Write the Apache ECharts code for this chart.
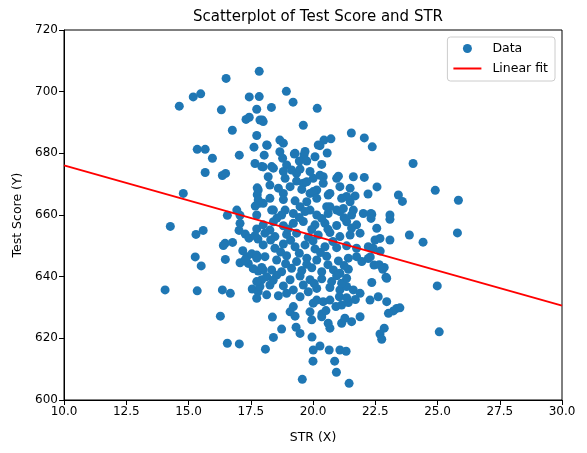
<!DOCTYPE html>
<html>
<head>
<meta charset="utf-8">
<script src="https://cdn.jsdelivr.net/npm/echarts@6/dist/echarts.min.js"></script>
<style>
  html, body { margin: 0; padding: 0; background: #fff; }
  #main { width: 587px; height: 453px; }
</style>
</head>
<body>
<div id="main"></div>
<script>
// 读图得到的散点 [STR, Test Score]
var leftPoints = [
  [16.51,704.3],[14.63,695.3],[15.19,698.3],[15.49,699.3],[16.32,694.1],[17.44,698.3],
  [17.84,706.6],[17.84,698.4],[17.74,694.3],[17.31,691.0],[17.44,691.7],[17.87,690.8],
  [16.76,687.5],[17.74,685.8],[15.35,681.3],[15.67,681.3],[17.63,682.0],[15.96,678.4],
  [17.04,679.4],[17.67,676.7],[15.67,673.8],[16.36,672.8],[16.49,673.5],[17.76,668.8],
  [14.79,667.0],[17.76,666.6],[17.68,662.9],[17.84,663.8],[16.56,659.9],[17.07,659.9],
  [17.74,660.0],[14.27,656.3],[15.30,653.7],[15.59,655.0],[17.03,655.0],[17.28,653.8],
  [17.43,652.5],[17.74,655.5],[16.47,650.8],[16.77,651.1],[16.40,650.1],[17.79,652.2],
  [15.27,646.4],[15.51,643.5],[16.48,645.6],[17.18,648.4],[17.34,646.5],[17.54,647.4],
  [17.74,647.0],[17.07,644.5],[17.40,644.3],[17.80,641.8],[14.06,635.7],[15.35,635.4],
  [16.36,635.7],[16.68,634.6],[17.56,636.0],[17.80,635.1],[17.74,633.0],[16.28,627.2],
  [16.56,618.4],[17.04,618.2],[17.27,645.4],[18.00,642.2],[17.94,639.0],[16.94,661.6],
  [18.41,661.6],[17.07,657.3],[18.27,655.1]
];
var upperPoints = [
  [18.93,700.1],[19.20,696.6],[20.17,694.6],[18.33,694.9],[17.96,690.8],[19.61,689.1],
  [21.54,686.6],[22.06,685.0],[22.38,682.1],[18.67,684.3],[18.81,683.3],[20.44,684.3],
  [20.72,684.7],[20.28,682.5],[18.16,682.6],[18.04,679.4],[18.67,680.5],[18.78,678.4],
  [19.25,679.8],[19.64,679.5],[19.45,677.5],[19.75,677.5],[20.08,678.9],[20.57,680.1],
  [20.35,676.4],[18.00,675.6],[18.34,675.7],[18.94,676.2],[18.81,674.1],[24.02,676.7],
  [18.20,672.4],[19.34,673.5],[20.01,671.9],[20.41,672.4],[20.95,671.9],[21.62,672.4],
  [22.06,672.2],[22.57,669.1],[24.91,668.0],[23.43,666.5],[23.59,664.4],[22.21,666.8],
  [21.69,666.2],[21.49,664.3],[18.27,669.7],[18.81,667.0],[19.08,669.2],[19.61,670.3],
  [19.88,667.0],[20.15,668.1],[20.68,667.0],[21.08,669.2],[21.35,666.0],[18.00,663.8],
  [18.34,661.6],[18.88,661.6],[19.48,662.7],[19.88,661.6],[20.55,662.7],[20.95,661.6],
  [21.62,661.6],[22.33,660.5],[23.09,658.6],[18.00,690.3],[18.14,682.7],[19.28,680.0],
  [19.68,680.6],[17.94,675.7],[18.41,675.2],[19.14,674.6],[19.48,674.9],[19.88,674.1],
  [18.88,671.9],[19.34,671.0],[19.75,670.8],[17.80,668.1],[18.61,668.7],[19.55,668.3],
  [20.01,667.6],[17.80,664.9],[18.27,665.4],[18.81,665.0],[19.28,664.6],[19.75,664.3],
  [20.15,665.4],[20.21,682.7],[20.28,672.9],[21.02,672.6],[20.41,670.3],[21.49,668.7],
  [20.61,666.5],[21.15,665.4],[20.68,662.7],[21.22,662.1],[23.09,660.0],[22.36,660.2]
];
var corePoints = [
  [18.14,634.1],[18.61,633.8],[18.94,634.6],[19.48,633.5],[19.81,635.1],
  [17.87,636.8],[18.27,637.3],[18.81,637.0],[19.21,635.7],[19.61,637.3],[20.15,636.2],
  [20.68,636.5],[21.08,635.7],[21.35,636.8],
  [17.74,638.4],[18.14,640.0],[18.54,640.5],[19.08,639.0],[19.48,640.2],[19.88,639.0],
  [20.35,639.3],[20.75,638.4],[21.15,637.9],[21.35,639.5],
  [17.60,642.6],[17.94,643.0],[18.34,642.2],[18.74,641.6],[19.14,642.7],[19.55,642.0],
  [19.95,642.9],[20.35,641.6],[20.82,642.2],[21.08,641.1],[21.42,642.4],
  [17.74,646.0],[18.07,646.5],[18.54,645.4],[18.94,646.8],[19.34,644.9],[19.75,646.0],
  [20.15,645.4],[20.55,646.6],[21.02,645.1],[21.42,646.0],[21.75,646.5],
  [18.00,650.3],[18.47,649.2],[18.81,650.6],[19.28,649.7],[19.68,650.3],[20.08,649.0],
  [20.48,649.7],[20.95,649.4],[21.35,650.0],[21.75,649.2],
  [17.67,653.3],[18.07,654.1],[18.47,653.0],[18.94,653.7],[19.34,654.1],[19.81,652.8],
  [20.21,653.5],[20.68,654.3],[21.08,653.0],[21.49,653.5],[21.89,654.1],
  [18.00,656.8],[18.41,657.8],[18.81,656.5],[19.21,657.3],[19.61,657.9],[20.08,656.8],
  [20.48,657.3],[20.95,656.6],[21.35,657.8],[21.75,656.8],
  [18.74,660.0],[19.21,660.5],[19.68,661.1],[20.15,660.0],[20.61,660.5],[21.08,661.1],
  [21.55,660.0],[22.02,660.5],
  [18.70,648.0],[19.45,647.6],[20.30,647.8],[19.10,651.8],[20.00,651.6],[20.80,651.4],
  [18.30,651.9],[19.95,655.3],[19.00,655.5],[20.60,655.4],[21.55,655.8],[18.55,659.0],
  [19.45,659.2],[20.35,658.9],[21.25,659.1],[18.90,644.2],[19.75,644.0],[20.60,643.9],
  [21.25,643.6],[18.40,638.8],[20.05,637.8],[20.95,640.3]
];
var lowerPoints = [
  [22.33,658.9],[22.56,655.7],[23.09,651.9],[22.69,652.4],[22.49,651.9],[22.22,649.7],
  [22.42,649.2],[21.96,644.9],[22.22,645.9],[22.45,643.8],[22.86,643.0],[22.93,639.8],
  [22.36,638.1],[21.62,635.7],[21.89,634.6],[22.29,632.4],[22.62,633.5],[22.96,631.9],
  [23.36,629.7],[23.23,628.9],[23.03,628.1],[22.86,623.3],[22.69,621.4],[22.76,619.7],
  [21.89,627.0],[21.55,625.4],[21.15,624.9],[21.28,626.5],[20.68,623.3],[20.61,624.9],
  [20.35,627.0],[21.08,616.2],[21.33,615.8],[20.65,616.2],[20.28,617.5],[20.01,616.2],
  [20.00,612.6],[20.87,612.6],[20.94,609.0],[21.45,605.4],[19.57,606.7],[19.96,620.4],
  [19.48,621.6],[19.32,623.6],[19.95,626.0],[19.88,628.6],[20.36,627.9],[20.52,629.0],
  [18.74,623.0],[18.41,620.3],[18.09,616.5],[18.37,626.9],[19.21,630.3],[19.08,628.6],
  [19.28,627.2],[20.92,630.3],[21.15,630.8],[21.42,631.6],[21.06,633.5],[21.35,633.2],
  [21.70,632.6],[20.15,632.4],[20.41,631.9],[20.68,632.4],[20.01,631.4],[22.70,648.3],
  [22.30,646.4],[22.66,643.9],[22.80,642.4],[22.96,639.5]
];
var rightPoints = [
  [25.84,664.8],[23.87,653.5],[24.42,651.2],[25.80,654.2],[24.99,637.0],[25.07,622.1],
  [23.49,629.9]
];
// 拟合直线两端
var fitX = [10, 30];
var fitY = [676.1, 630.6];

var allPoints = leftPoints.concat(upperPoints, corePoints, lowerPoints, rightPoints);
var fitLine = fitX.map(function (x, i) { return [x, fitY[i]]; });

var myChart = echarts.init(document.getElementById('main'));
var font = 'DejaVu Sans';
var option = {
  backgroundColor: '#fff',
  animation: false,
  title: {
    text: 'Scatterplot of Test Score and STR',
    left: 313,
    textAlign: 'center',
    top: 5,
    textStyle: { fontFamily: font, fontSize: 15, fontWeight: 'normal', color: '#000' }
  },
  legend: {
    orient: 'vertical',
    right: 32,
    top: 37,
    padding: [5, 7, 6, 5],
    itemGap: 7,
    itemWidth: 28,
    itemHeight: 9,
    borderColor: '#ccc',
    borderWidth: 1,
    borderRadius: 3,
    textStyle: { fontFamily: font, fontSize: 12.5, color: '#000', padding: [0, 0, 0, 6] },
    data: [
      { name: 'Data', icon: 'circle' },
      { name: 'Linear fit', itemStyle: { opacity: 0 } }
    ]
  },
  grid: {
    left: 64, right: 25, top: 30, bottom: 53,
    show: true, borderColor: '#000', borderWidth: 1
  },
  xAxis: {
    type: 'value',
    min: 10, max: 30, interval: 2.5,
    name: 'STR (X)',
    nameLocation: 'middle',
    nameGap: 31,
    nameTextStyle: { fontFamily: font, fontSize: 12.5, color: '#000' },
    axisLine: { lineStyle: { color: '#000' } },
    axisTick: { length: 5, lineStyle: { color: '#000' } },
    axisLabel: {
      fontFamily: font, fontSize: 12, color: '#000', margin: 6,
      formatter: function (v) { return v.toFixed(1); }
    },
    splitLine: { show: false }
  },
  yAxis: {
    type: 'value',
    min: 600, max: 720, interval: 20,
    name: 'Test Score (Y)',
    nameLocation: 'middle',
    nameGap: 40,
    nameTextStyle: { fontFamily: font, fontSize: 12.5, color: '#000' },
    axisLine: { show: true, lineStyle: { color: '#000' } },
    axisTick: { show: true, length: 5, lineStyle: { color: '#000' } },
    axisLabel: { fontFamily: font, fontSize: 12, color: '#000', margin: 6 },
    splitLine: { show: false }
  },
  series: [
    {
      name: 'Data',
      type: 'scatter',
      symbolSize: 9,
      itemStyle: { color: '#1f77b4', opacity: 1 },
      data: allPoints
    },
    {
      name: 'Linear fit',
      type: 'line',
      symbol: 'none',
      lineStyle: { color: '#ff0000', width: 2 },
      itemStyle: { color: '#ff0000' },
      data: fitLine,
      z: 3
    }
  ]
};
myChart.setOption(option);
</script>
</body>
</html>
